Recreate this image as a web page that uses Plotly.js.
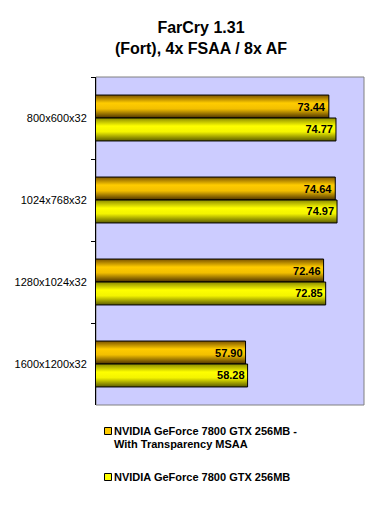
<!DOCTYPE html>
<html>
<head>
<meta charset="utf-8">
<script src="https://cdn.plot.ly/plotly-3.0.1.min.js"></script>
<style>html,body{margin:0;padding:0;background:#fff;}#chart{width:391px;height:510px;}</style>
</head>
<body>
<div id="chart"></div>
<script>
// ---- data ----
const categories = ['800x600x32', '1024x768x32', '1280x1024x32', '1600x1200x32'];
const seriesNames = ['NVIDIA GeForce 7800 GTX 256MB -<br>With Transparency MSAA', 'NVIDIA GeForce 7800 GTX 256MB'];
const transparencyMSAA = [73.44, 74.64, 72.46, 57.90];
const standard = [74.77, 74.97, 72.85, 58.28];
const titleLines = ['FarCry 1.31', '(Fort), 4x FSAA / 8x AF'];

// ---- style ----
const FONT = 'Arial, "Liberation Sans", sans-serif';
const colors = ['#FFCC00', '#FFFF00'];
const gradStops = [
  [['0', '#7a5200'], ['0.35', '#FFCC00'], ['0.6', '#F2BF00'], ['1', '#4a3000']],
  [['0', '#8a8a00'], ['0.35', '#FFFF00'], ['0.6', '#F4F400'], ['1', '#5a5a00']]
];

const W = 391, H = 510, L = 96, R = 27, T = 77, B = 105;
const pw = W - L - R, ph = H - T - B;
const px2x = p => (p - L) / pw;
const py2y = p => (H - B - p) / ph;

function barTrace(vals, i) {
  return {
    type: 'bar', orientation: 'h',
    y: categories, x: vals, name: seriesNames[i].replace('<br>', ' '),
    marker: {color: colors[i], line: {color: '#000', width: 1}},
    text: vals.map(v => v.toFixed(2)),
    textposition: 'inside', insidetextanchor: 'end',
    textfont: {family: FONT, size: 11, color: '#000', weight: 'bold'},
    cliponaxis: false, showlegend: false
  };
}

const data = [barTrace(transparencyMSAA, 0), barTrace(standard, 1)];

const legendY = [431, 477];
const shapes = [
  {type: 'rect', xref: 'paper', yref: 'paper', x0: 0, x1: 1, y0: 0, y1: 1,
   line: {color: '#808080', width: 1}, fillcolor: 'rgba(0,0,0,0)', layer: 'below'}
];
const annotations = [];
seriesNames.forEach((n, i) => {
  const cy = legendY[i];
  shapes.push({type: 'rect', xref: 'paper', yref: 'paper',
    x0: px2x(104.5), x1: px2x(111.5), y0: py2y(cy + 3.5), y1: py2y(cy - 3.5),
    line: {color: '#000', width: 1}, fillcolor: colors[i]});
  n.split('<br>').forEach((line, k) => {
    annotations.push({xref: 'paper', yref: 'paper', x: px2x(112), y: py2y(cy + k * 13),
      xanchor: 'left', yanchor: 'middle', align: 'left', showarrow: false,
      text: '<b>' + line + '</b>', font: {family: FONT, size: 11, color: '#000'}});
  });
});

const layout = {
  width: W, height: H,
  margin: {l: L, r: R, t: T, b: B, pad: 0},
  paper_bgcolor: '#fff', plot_bgcolor: '#CCCCFF',
  title: {text: '<b>' + titleLines.join('<br>') + '</b>', x: 201 / W, xref: 'container', xanchor: 'center',
          yref: 'container', y: 1 - 33 / H, yanchor: 'top', font: {family: FONT, size: 16, color: '#000'}},
  barmode: 'group', bargap: 0.44, bargroupgap: 0,
  xaxis: {range: [30, 80], showgrid: false, zeroline: false, showticklabels: false, ticks: '', showline: false, fixedrange: true},
  yaxis: {type: 'category', autorange: 'reversed', tickson: 'boundaries', ticks: 'outside', ticklen: 4,
          tickcolor: '#000', showline: true, linecolor: '#000', linewidth: 1, showgrid: false, zeroline: false,
          tickfont: {family: FONT, size: 11, color: '#000'}, ticklabelstandoff: 6},
  shapes: shapes, annotations: annotations, showlegend: false
};

Plotly.newPlot('chart', data, layout, {staticPlot: true, displayModeBar: false}).then(gd => {
  const svg = gd.querySelector('.main-svg');
  const defs = svg.querySelector('defs');
  const NS = 'http://www.w3.org/2000/svg';
  gradStops.forEach((stops, i) => {
    const g = document.createElementNS(NS, 'linearGradient');
    g.setAttribute('id', 'bargrad' + i);
    g.setAttribute('x1', '0'); g.setAttribute('y1', '0');
    g.setAttribute('x2', '0'); g.setAttribute('y2', '1');
    stops.forEach(([o, c]) => {
      const s = document.createElementNS(NS, 'stop');
      s.setAttribute('offset', o); s.setAttribute('stop-color', c);
      g.appendChild(s);
    });
    defs.appendChild(g);
  });
  gd.querySelectorAll('.barlayer .trace').forEach((tr, i) => {
    tr.querySelectorAll('.point path').forEach(p => { p.style.fill = 'url(#bargrad' + i + ')'; });
  });
});
</script>
</body>
</html>
